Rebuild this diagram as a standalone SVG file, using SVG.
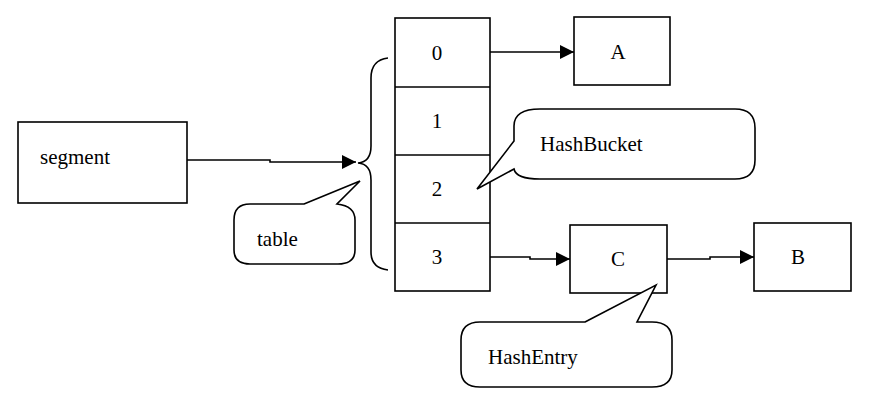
<svg xmlns="http://www.w3.org/2000/svg" width="870" height="408" viewBox="0 0 870 408">
<defs>
<marker id="ah" viewBox="0 0 10 10" refX="10" refY="5" markerWidth="14" markerHeight="14" markerUnits="userSpaceOnUse" orient="auto"><path d="M0,0 L10,5 L0,10 z" fill="#000"/></marker>
<style>
.b{fill:#fff;stroke:#000;stroke-width:1.6}
.l{fill:none;stroke:#000;stroke-width:1.6}
.t{font-family:"Liberation Serif",serif;font-size:21px;fill:#000}
.c{text-anchor:middle}
</style>
</defs>
<rect width="870" height="408" fill="#fff"/>
<g id="segment"><rect class="b" x="18" y="122" width="169" height="81"/><text class="t" x="40" y="164">segment</text></g>
<g id="table-array">
<rect class="b" x="395" y="18" width="95" height="273"/>
<line class="l" x1="395" y1="87" x2="490" y2="87"/>
<line class="l" x1="395" y1="155" x2="490" y2="155"/>
<line class="l" x1="395" y1="223" x2="490" y2="223"/>
<text class="t c" x="437" y="60">0</text>
<text class="t c" x="437" y="128">1</text>
<text class="t c" x="437" y="196">2</text>
<text class="t c" x="437" y="264">3</text>
</g>
<g id="brace"><path class="l" d="M388,58 Q371,60 371,78 L371,146 Q371,162 358,163 Q371,164 371,180 L371,252 Q371,268 388,270"/></g>
<g id="A"><rect class="b" x="574" y="17" width="96" height="68"/><text class="t c" x="618" y="59">A</text></g>
<g id="C"><rect class="b" x="570" y="225" width="97" height="68"/><text class="t c" x="618" y="266">C</text></g>
<g id="B"><rect class="b" x="754" y="223" width="97" height="68"/><text class="t c" x="798" y="264">B</text></g>
<g id="hashbucket"><path class="b" d="M514,141 L477,189 L514,169 Q516,179 540,179 L735,179 Q755,179 755,160 L755,128 Q755,109 735,109 L540,109 Q514,109 514,126 Z"/><text class="t" x="540" y="151">HashBucket</text></g>
<g id="table-label"><path class="b" d="M304,204 L360,181 L337,204 Q355,206 355,220 L355,250 Q355,264 338,264 L250,264 Q234,264 234,250 L234,220 Q234,204 250,204 Z"/><text class="t" x="257" y="246">table</text></g>
<g id="hashentry"><path class="b" d="M585,322 L656,285 L637,322 L652,322 Q672,322 672,340 L672,370 Q672,387 652,387 L480,387 Q461,387 461,370 L461,340 Q461,322 480,322 Z"/><text class="t" x="488" y="364">HashEntry</text></g>
<g id="connectors">
<path class="l" d="M187,160 L270,160 L270,162 L356,162" marker-end="url(#ah)"/>
<path class="l" d="M490,52 L574,52" marker-end="url(#ah)"/>
<path class="l" d="M490,257 L530,257 L530,259 L570,259" marker-end="url(#ah)"/>
<path class="l" d="M667,259 L710,259 L710,257 L754,257" marker-end="url(#ah)"/>
</g>
</svg>
